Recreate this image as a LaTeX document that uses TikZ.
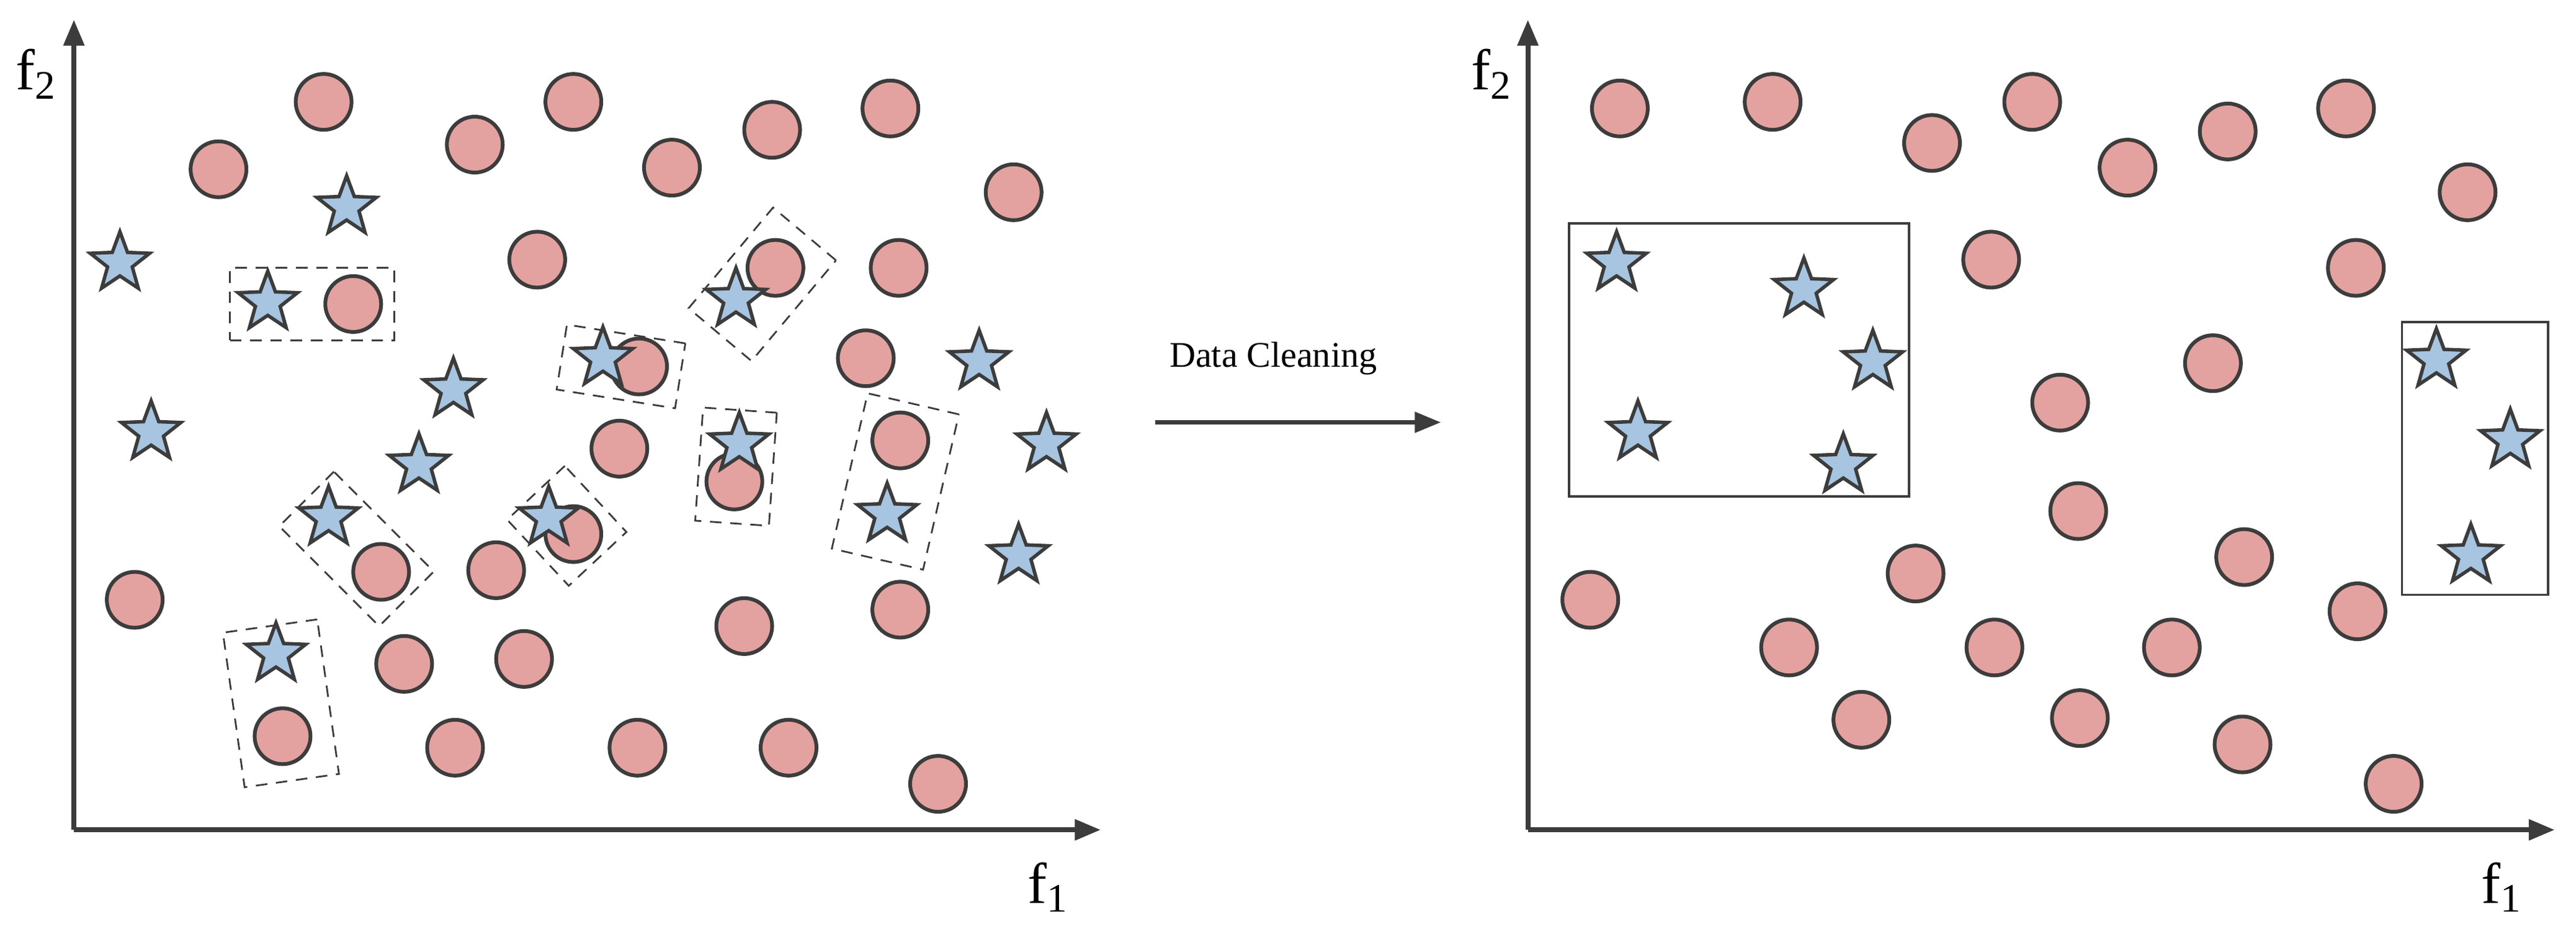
\documentclass[tikz,border=0pt]{standalone}
\usepackage{fontspec}
\setmainfont{Liberation Serif}
\usetikzlibrary{arrows.meta,shapes.geometric}

\definecolor{dotpink}{RGB}{227,162,159}
\definecolor{starblue}{RGB}{167,196,224}
\definecolor{inkgray}{RGB}{60,60,60}

\tikzset{
	dot/.style = {circle, draw=inkgray, fill=dotpink, line width=1.3pt, inner sep=0, minimum size=0.68cm},
	starnode/.style = {star, star points=5, star point ratio=2.4, draw=inkgray, fill=starblue, line width=1.2pt, inner sep=0, minimum size=0.76cm},
	pairbox/.style = {rectangle, draw=inkgray, dash pattern=on 4pt off 3pt, line width=0.6pt, inner sep=0},
	cleanbox/.style = {rectangle, draw=inkgray, line width=0.8pt},
	axis/.style = {draw=inkgray, line width=1.7pt, -{Triangle[length=9pt, width=7pt]}},
	flow/.style = {draw=inkgray, line width=1.4pt, -{Triangle[length=9pt, width=7pt]}},
	axlabel/.style = {inner sep=0, font=\fontsize{20}{24}\selectfont}
}

\begin{document}
\begin{tikzpicture}[x=0.02cm, y=-0.02cm]
		\useasboundingbox (0,0) rectangle (1568,565);
		
		%left panel: axes
		\coordinate (lo) at (45,505);
		\coordinate (ly) at (45,12);
		\coordinate (lx) at (670,505);
		\path [axis] (lo) -- (ly);
		\path [axis] (lo) -- (lx);
		\node [axlabel] (lf2) at (22,45) {f\textsubscript{2}};
		\node [axlabel] (lf1) at (638,540) {f\textsubscript{1}};
		
		%left panel: noisy pairs
		\node [pairbox, minimum width=2cm, minimum height=0.88cm] (b1) at (190,185) {};
		\node [pairbox, minimum width=1cm, minimum height=1.6cm, rotate=-40] (b2) at (464,173) {};
		\node [pairbox, minimum width=1.46cm, minimum height=0.8cm, rotate=-9] (b3) at (378,223) {};
		\node [pairbox, minimum width=0.9cm, minimum height=1.38cm, rotate=-4] (b4) at (448,284) {};
		\node [pairbox, minimum width=1.14cm, minimum height=1.94cm, rotate=-13] (b5) at (545,293) {};
		\node [pairbox, minimum width=0.94cm, minimum height=1.72cm, rotate=45] (b6) at (217,334) {};
		\node [pairbox, minimum width=0.96cm, minimum height=1.1cm, rotate=43] (b7) at (345,320) {};
		\node [pairbox, minimum width=1.16cm, minimum height=1.9cm, rotate=8] (b8) at (171,428) {};
		
		%left panel: circles
		\foreach \x/\y [count=\i] in {197/62, 349/62, 133/103, 289/88, 409/102, 470/79, 542/66, 617/117,
			327/158, 472/163, 547/163, 215/185, 527/218, 389/223, 548/268, 377/273, 447/293, 232/348,
			302/347, 349/325, 82/365, 453/381, 548/371, 246/404, 319/401, 172/448, 277/455, 388/455,
			480/455, 571/477}
			\node [dot] (lc\i) at (\x,\y) {};
		
		%left panel: stars
		\foreach \x/\y [count=\i] in {73/160, 211/126, 163/184, 448/182, 596/220, 367/218, 92/263,
			276/237, 255/283, 450/270, 637/270, 200/315, 334/315, 540/313, 620/338, 168/398}
			\node [starnode] (ls\i) at (\x,\y) {};
		
		%middle arrow
		\coordinate (ma) at (703,257);
		\coordinate (mb) at (877,257);
		\path [flow] (ma) -- (mb);
		\node [inner sep=0, font=\fontsize{12.5}{15}\selectfont] (clean) at (775,218) {Data Cleaning};
		
		%right panel: axes
		\coordinate (ro) at (930,505);
		\coordinate (ry) at (930,12);
		\coordinate (rx) at (1555,505);
		\path [axis] (ro) -- (ry);
		\path [axis] (ro) -- (rx);
		\node [axlabel] (rf2) at (908,45) {f\textsubscript{2}};
		\node [axlabel] (rf1) at (1523,540) {f\textsubscript{1}};
		
		%right panel: clean groups
		\node [cleanbox, minimum width=4.14cm, minimum height=3.32cm] (g1) at (1058.5,219) {};
		\node [cleanbox, minimum width=1.78cm, minimum height=3.32cm] (g2) at (1506.5,279) {};
		
		\foreach \x/\y [count=\i] in {986/66, 1079/62, 1176/87, 1237/62, 1295/102, 1356/80, 1428/66,
			1502/117, 1212/158, 1434/163, 1347/221, 1254/245, 1265/311, 968/365, 1166/349, 1366/339,
			1435/372, 1089/394, 1214/394, 1322/394, 1133/438, 1266/437, 1365/453, 1457/477}
			\node [dot] (rc\i) at (\x,\y) {};
		
		\foreach \x/\y [count=\i] in {984/160, 1098/176, 1140/220, 997/263, 1122/283, 1483/219,
			1528/268, 1504/338}
			\node [starnode] (rs\i) at (\x,\y) {};
		
	\end{tikzpicture}
\end{document}
